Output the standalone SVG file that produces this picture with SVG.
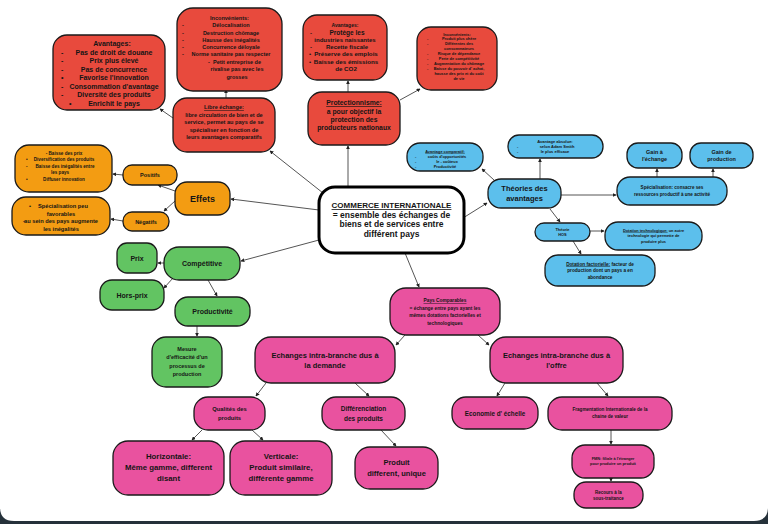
<svg xmlns="http://www.w3.org/2000/svg" width="768" height="524" viewBox="0 0 768 524">
<defs>
<marker id="a" viewBox="0 0 6 6" refX="5" refY="3" markerWidth="4" markerHeight="4" orient="auto"><path d="M0,0 L6,3 L0,6z" fill="#222"/></marker>
<style>
text{font-family:"Liberation Sans",Arial,sans-serif;fill:#151515;text-anchor:middle;font-weight:bold}
.n{stroke:#1a1a1a;stroke-width:1.3}
.r{fill:#e84a3d}
.o{fill:#f39c12}
.b{fill:#5cbfec}
.g{fill:#62c462}
.p{fill:#e9529f}
.w{fill:#fff;stroke:#000;stroke-width:3}
.u{text-decoration:underline}
.bl{text-anchor:start}
#conn line{stroke:#555;stroke-width:1;marker-end:url(#a)}
</style>
</defs>
<rect width="768" height="524" fill="#25313a"/>
<path d="M0,0 H768 V507 Q768,521 754,521 H14 Q0,521 0,507 Z" fill="#fff"/>

<g id="conn">
<line x1="323" y1="193" x2="270" y2="151"/>
<line x1="173" y1="118" x2="160" y2="109"/>
<line x1="226" y1="98" x2="226" y2="90"/>
<line x1="348" y1="187" x2="348" y2="146"/>
<line x1="348" y1="92" x2="348" y2="81"/>
<line x1="400" y1="100" x2="420" y2="89"/>
<line x1="319" y1="210" x2="231" y2="199"/>
<line x1="175" y1="191" x2="158" y2="185"/>
<line x1="175" y1="201" x2="164" y2="211"/>
<line x1="123" y1="175" x2="113" y2="174"/>
<line x1="123" y1="221" x2="111" y2="219"/>
<line x1="319" y1="240" x2="241" y2="261"/>
<line x1="164" y1="263" x2="158" y2="263"/>
<line x1="173" y1="278" x2="164" y2="288"/>
<line x1="208" y1="280" x2="217" y2="296"/>
<line x1="197" y1="326" x2="197" y2="336"/>
<line x1="463" y1="218" x2="487" y2="203"/>
<line x1="494" y1="180" x2="482" y2="169"/>
<line x1="540" y1="179" x2="540" y2="159"/>
<line x1="561" y1="195" x2="616" y2="195"/>
<line x1="657" y1="177" x2="657" y2="169"/>
<line x1="713" y1="177" x2="713" y2="169"/>
<line x1="550" y1="209" x2="560" y2="222"/>
<line x1="590" y1="231" x2="604" y2="231"/>
<line x1="573" y1="241" x2="581" y2="254"/>
<line x1="405" y1="253" x2="419" y2="287"/>
<line x1="405" y1="335" x2="396" y2="345"/>
<line x1="478" y1="335" x2="489" y2="345"/>
<line x1="266" y1="383" x2="256" y2="396"/>
<line x1="355" y1="383" x2="369" y2="396"/>
<line x1="505" y1="383" x2="497" y2="396"/>
<line x1="597" y1="383" x2="608" y2="396"/>
<line x1="202" y1="430" x2="192" y2="440"/>
<line x1="252" y1="430" x2="263" y2="440"/>
<line x1="381" y1="430" x2="396" y2="446"/>
<line x1="611" y1="430" x2="611" y2="444"/>
<line x1="611" y1="478" x2="611" y2="481"/>
</g>

<g id="avantages-libre">
<rect class="n r" x="53" y="35" width="112" height="75" rx="14"/>
<g font-size="7">
<text x="112" y="46">Avantages:</text>
<text x="114" y="54.5">Pas de droit de douane</text>
<text x="114" y="63">Prix plus élevé</text>
<text x="114" y="71.5">Pas de concurrence</text>
<text x="114" y="80">Favorise l'innovation</text>
<text x="114" y="88.5">Consommation d'avantage</text>
<text x="114" y="97">Diversité des produits</text>
<text x="114" y="105.5">Enrichit le pays</text>
<text class="bl" x="61" y="54.5">-</text>
<text class="bl" x="61" y="63">-</text>
<text class="bl" x="61" y="71.5">-</text>
<text class="bl" x="61" y="80">•</text>
<text class="bl" x="61" y="88.5">-</text>
<text class="bl" x="61" y="97">-</text>
<text class="bl" x="69" y="105.5">•</text>
</g>
</g>

<g id="inconvenients-libre">
<rect class="n r" x="177" y="8" width="105" height="83" rx="16"/>
<g font-size="5.5">
<text x="229.5" y="20">Inconvénients:</text>
<text x="231" y="27">Délocalisation</text>
<text x="231" y="34.5">Destruction chômage</text>
<text x="231" y="41.5">Hausse des inégalités</text>
<text x="231" y="49">Concurrence déloyale</text>
<text x="231" y="56">Norme sanitaire pas respecter</text>
<text x="237" y="63.5">Petit entreprise de</text>
<text x="237" y="71">rivalise pas avec les</text>
<text x="237" y="78.5">grosses</text>
<text class="bl" x="182" y="27">-</text>
<text class="bl" x="182" y="34.5">-</text>
<text class="bl" x="182" y="41.5">-</text>
<text class="bl" x="182" y="49">-</text>
<text class="bl" x="182" y="56">-</text>
<text class="bl" x="208" y="63.5">-</text>
</g>
</g>

<g id="libre-echange">
<rect class="n r" x="173" y="98" width="102" height="54" rx="14"/>
<g font-size="5.6">
<text class="u" x="224" y="109">Libre échange:</text>
<text x="224" y="116.5">libre circulation de bien et de</text>
<text x="224" y="124">service, permet au pays de se</text>
<text x="224" y="131.5">spécialiser en fonction de</text>
<text x="224" y="139">leurs avantages comparatifs</text>
</g>
</g>

<g id="avantages-protect">
<rect class="n r" x="303" y="15" width="84" height="65" rx="14"/>
<text x="345" y="27" font-size="5">Avantages:</text>
<text x="347" y="35" font-size="6.5">Protège les</text>
<text x="345" y="41.5" font-size="6">industries naissantes</text>
<text x="347" y="49" font-size="6">Recette fiscale</text>
<text x="346" y="56" font-size="6.2">Préserve des emplois</text>
<text x="346" y="63.5" font-size="6.2">Baisse des émissions</text>
<text x="346" y="71" font-size="6.2">de CO2</text>
<g font-size="6">
<text class="bl" x="310" y="35">-</text>
<text class="bl" x="310" y="49">-</text>
<text class="bl" x="309" y="56">•</text>
<text class="bl" x="309" y="63.5">•</text>
</g>
</g>

<g id="protectionnisme">
<rect class="n r" x="308" y="92" width="92" height="53" rx="14"/>
<g font-size="6.8">
<text class="u" x="354" y="105">Protectionnisme:</text>
<text x="354" y="114">a pour objectif la</text>
<text x="354" y="122">protection des</text>
<text x="354" y="130">producteurs nationaux</text>
</g>
</g>

<g id="inconvenients-protect">
<rect class="n r" x="417" y="27" width="80" height="63" rx="14"/>
<g font-size="3.9">
<text x="457" y="35.5">Inconvénients:</text>
<text x="459" y="40.4">Produit plus chère</text>
<text x="459" y="45.3">Différentes des</text>
<text x="459" y="50.2">consommateurs</text>
<text x="459" y="55.1">Risque de dépendance</text>
<text x="459" y="60">Perte de compétitivité</text>
<text x="459" y="64.9">Augmentation du chômage</text>
<text x="459" y="69.8">Baisse du pouvoir d' achat,</text>
<text x="459" y="74.7">hausse des prix et du coût</text>
<text x="459" y="79.6">de vie</text>
<text class="bl" x="427" y="40.4">-</text>
<text class="bl" x="427" y="45.3">-</text>
<text class="bl" x="427" y="55.1">-</text>
<text class="bl" x="427" y="60">-</text>
<text class="bl" x="427" y="64.9">-</text>
<text class="bl" x="427" y="69.8">-</text>
</g>
</g>

<g id="effets">
<rect class="n o" x="175" y="182" width="55" height="33" rx="12"/>
<text x="202.5" y="202" font-size="9">Effets</text>
</g>
<g id="positifs">
<rect class="n o" x="123" y="165" width="54" height="20" rx="9"/>
<text x="150" y="177" font-size="5.5">Positifs</text>
</g>
<g id="negatifs">
<rect class="n o" x="123" y="212" width="46" height="19" rx="9"/>
<text x="146" y="223.5" font-size="5.5">Négatifs</text>
</g>
<g id="effets-positifs">
<rect class="n o" x="15" y="145" width="97" height="47" rx="14"/>
<g font-size="4.6">
<text x="64" y="154.5">- Baisse des prix</text>
<text x="64" y="161">Diversification des produits</text>
<text x="65" y="167.5">Baisse des inégalités entre</text>
<text x="60" y="174">les pays</text>
<text x="64" y="180.5">Diffuser innovation</text>
<text class="bl" x="26" y="161">•</text>
<text class="bl" x="26" y="167.5">-</text>
<text class="bl" x="26" y="180.5">•</text>
</g>
</g>
<g id="effets-negatifs">
<rect class="n o" x="12" y="197" width="98" height="38" rx="14"/>
<g font-size="5.7">
<text x="63" y="208">Spécialisation peu</text>
<text x="61" y="215.5">favorables</text>
<text x="61" y="223">au sein des pays augmente</text>
<text x="61" y="230.5">les inégalités</text>
<text class="bl" x="29" y="208">•</text>
<text class="bl" x="23" y="223">-</text>
</g>
</g>

<g id="commerce">
<rect class="w" x="319" y="187" width="145" height="66" rx="16"/>
<text class="u" x="391.5" y="208" font-size="8">COMMERCE INTERNATIONALE</text>
<text x="391.5" y="217.5" font-size="8.5">= ensemble des échanges de</text>
<text x="391.5" y="227" font-size="8.5">biens et de services entre</text>
<text x="391.5" y="236.5" font-size="8.5">différent pays</text>
</g>

<g id="theories">
<rect class="n b" x="488" y="179" width="73" height="29" rx="13"/>
<text x="524.5" y="191" font-size="7.5">Théories des</text>
<text x="524.5" y="201" font-size="7.5">avantages</text>
</g>
<g id="avantage-comparatif">
<rect class="n b" x="407" y="143" width="76" height="28" rx="13"/>
<g font-size="3.9">
<text class="u" x="445" y="152.5">Avantage comparatif:</text>
<text x="447" y="157.5">coûts d'opportunités</text>
<text x="447" y="162.5">le - coûteux</text>
<text x="445" y="167.5">Productivité</text>
<text class="bl" x="415" y="157.5">-</text>
<text class="bl" x="415" y="162.5">-</text>
<text class="bl" x="415" y="167.5">-</text>
</g>
</g>
<g id="avantage-absolue">
<rect class="n b" x="508" y="135" width="95" height="23" rx="11"/>
<g font-size="4">
<text x="555" y="143">Avantage absolue:</text>
<text x="557" y="148">selon Adam Smith</text>
<text x="555" y="153">le plus efficace</text>
<text class="bl" x="517" y="148">-</text>
<text class="bl" x="517" y="153">-</text>
</g>
</g>
<g id="gain-echange">
<rect class="n b" x="627" y="143" width="55" height="25" rx="11"/>
<text x="654.5" y="153.5" font-size="5.5">Gain à</text>
<text x="654.5" y="160.5" font-size="5.5">l'échange</text>
</g>
<g id="gain-production">
<rect class="n b" x="690" y="143" width="63" height="25" rx="11"/>
<text x="721.5" y="153.5" font-size="5.5">Gain de</text>
<text x="721.5" y="160.5" font-size="5.5">production</text>
</g>
<g id="specialisation">
<rect class="n b" x="617" y="177" width="110" height="28" rx="13"/>
<text x="672" y="189" font-size="4.6">Spécialisation: consacre ses</text>
<text x="672" y="195.5" font-size="4.6">ressources productif à une activité</text>
</g>
<g id="hos">
<rect class="n b" x="535" y="223" width="55" height="18" rx="9"/>
<text x="562.5" y="230.5" font-size="3.9">Théorie</text>
<text x="562.5" y="235.5" font-size="3.9">HOS</text>
</g>
<g id="dotation-techno">
<rect class="n b" x="605" y="222" width="97" height="28" rx="13"/>
<g font-size="3.9">
<text x="653.5" y="231.5"><tspan class="u">Dotation technologique:</tspan> un autre</text>
<text x="653.5" y="237">technologie qui permette de</text>
<text x="653.5" y="242.5">produire plus</text>
</g>
</g>
<g id="dotation-fact">
<rect class="n b" x="545" y="255" width="110" height="31" rx="13"/>
<g font-size="4.7">
<text x="600" y="265.5"><tspan class="u">Dotation factorielle:</tspan> facteur de</text>
<text x="600" y="272">production dont un pays a en</text>
<text x="600" y="278.5">abondance</text>
</g>
</g>

<g id="prix">
<rect class="n g" x="117" y="243" width="40" height="30" rx="10"/>
<text x="137" y="260.5" font-size="7">Prix</text>
</g>
<g id="competitive">
<rect class="n g" x="164" y="247" width="76" height="33" rx="15"/>
<text x="202" y="266" font-size="7">Compétitive</text>
</g>
<g id="hors-prix">
<rect class="n g" x="100" y="280" width="64" height="30" rx="12"/>
<text x="132" y="297.5" font-size="7">Hors-prix</text>
</g>
<g id="productivite">
<rect class="n g" x="175" y="297" width="75" height="29" rx="13"/>
<text x="212.5" y="314" font-size="7">Productivité</text>
</g>
<g id="mesure">
<rect class="n g" x="152" y="337" width="70" height="50" rx="14"/>
<g font-size="5.5">
<text x="187" y="350.5">Mesure</text>
<text x="187" y="359">d'efficacité d'un</text>
<text x="187" y="367.5">processus de</text>
<text x="187" y="376">production</text>
</g>
</g>

<g id="pays-comparables">
<rect class="n p" x="390" y="288" width="110" height="47" rx="16"/>
<g font-size="4.8">
<text class="u" x="445" y="302">Pays Comparables</text>
<text x="445" y="309.5">= échange entre pays ayant les</text>
<text x="445" y="317">mêmes dotations factorielles et</text>
<text x="445" y="324.5">technologiques</text>
</g>
</g>
<g id="echanges-demande">
<rect class="n p" x="255" y="337" width="140" height="46" rx="16"/>
<text x="325" y="357.5" font-size="7.5">Echanges intra-branche dus à</text>
<text x="325" y="367.5" font-size="7.5">la demande</text>
</g>
<g id="echanges-offre">
<rect class="n p" x="490" y="337" width="133" height="46" rx="16"/>
<text x="556.5" y="357.5" font-size="7.5">Echanges intra-branche dus à</text>
<text x="556.5" y="367.5" font-size="7.5">l'offre</text>
</g>
<g id="qualites">
<rect class="n p" x="194" y="397" width="71" height="33" rx="14"/>
<text x="229.5" y="411" font-size="5.8">Qualités des</text>
<text x="229.5" y="420" font-size="5.8">produits</text>
</g>
<g id="differenciation">
<rect class="n p" x="322" y="397" width="83" height="33" rx="14"/>
<text x="363.5" y="411" font-size="6.5">Différenciation</text>
<text x="363.5" y="420.5" font-size="6.5">des produits</text>
</g>
<g id="horizontale">
<rect class="n p" x="113" y="441" width="111" height="54" rx="15"/>
<text x="168.5" y="459" font-size="7.8">Horizontale:</text>
<text x="168.5" y="470" font-size="7.8">Même gamme, different</text>
<text x="168.5" y="481" font-size="7.8">disant</text>
</g>
<g id="verticale">
<rect class="n p" x="230" y="441" width="102" height="54" rx="15"/>
<text x="281" y="459" font-size="7.8">Verticale:</text>
<text x="281" y="470" font-size="7.8">Produit similaire,</text>
<text x="281" y="481" font-size="7.8">différente gamme</text>
</g>
<g id="produit-different">
<rect class="n p" x="355" y="447" width="83" height="42" rx="15"/>
<text x="396.5" y="465" font-size="7.5">Produit</text>
<text x="396.5" y="476" font-size="7.5">different, unique</text>
</g>
<g id="economie-echelle">
<rect class="n p" x="452" y="397" width="86" height="32" rx="14"/>
<text x="495" y="415.5" font-size="6.3">Economie d' échelle</text>
</g>
<g id="fragmentation">
<rect class="n p" x="548" y="397" width="124" height="33" rx="14"/>
<text x="610" y="410.5" font-size="4.6">Fragmentation Internationale de la</text>
<text x="610" y="417.5" font-size="4.6">chaine de valeur</text>
</g>
<g id="fmn">
<rect class="n p" x="572" y="445" width="82" height="33" rx="13"/>
<text x="613" y="459.5" font-size="3.9">FMN: filiale à l'étranger</text>
<text x="613" y="465" font-size="3.9">pour produire un produit</text>
</g>
<g id="recours">
<rect class="n p" x="574" y="482" width="69" height="26" rx="12"/>
<text x="608.5" y="493.5" font-size="4.5">Recours à la</text>
<text x="608.5" y="500" font-size="4.5">sous-traitance</text>
</g>
</svg>
